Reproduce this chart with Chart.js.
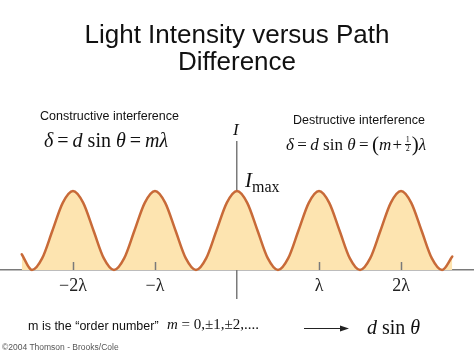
<!DOCTYPE html>
<html>
<head>
<meta charset="utf-8">
<script src="https://cdn.jsdelivr.net/npm/chart.js@4"></script>
<style>
  body { margin: 0; background: #fff; }
  #wrap { position: relative; width: 474px; height: 355px; overflow: hidden; }
  #wrap canvas { position: absolute; left: 0; top: 0; }
  .t { position: absolute; white-space: nowrap; line-height: 1; color: #111; }
  .sans { font-family: "Liberation Sans", Arial, sans-serif; }
  .serif { font-family: "Liberation Serif", "Times New Roman", serif; }
  .title { left: 0; width: 474px; text-align: center; font-size: 26px; line-height: 27px; top: 21px; }
  .frac { display: inline-block; vertical-align: middle; font-size: 8px; line-height: 8px; text-align: center; margin: 0 1px; position: relative; top: -2px; }
  .frac span { display: block; }
  .frac .num { border-bottom: 1px solid #111; padding: 0 1px; }
  .big { font-size: 21px; position: relative; top: 1px; }
</style>
</head>
<body>
<div id="wrap">
  <canvas id="intensityChart" width="474" height="355"></canvas>
  <div class="t sans title">Light Intensity versus Path<br>Difference</div>
  <div class="t sans" style="left:40px;top:110px;font-size:12.5px;">Constructive interference</div>
  <div class="t serif" style="left:44px;top:130px;font-size:20px;"><i>δ</i>&thinsp;=&thinsp;<i>d</i> sin <i>θ</i>&thinsp;=&thinsp;<i>mλ</i></div>
  <div class="t sans" style="left:293px;top:114px;font-size:12.5px;">Destructive interference</div>
  <div class="t serif" style="left:286px;top:133px;font-size:17px;"><i>δ</i>&thinsp;=&thinsp;<i>d</i> sin <i>θ</i>&thinsp;=&thinsp;<span class="big">(</span><i>m</i>&hairsp;+&hairsp;<span class="frac"><span class="num">1</span><span>2</span></span><span class="big">)</span><i>λ</i></div>
  <div class="t serif" style="left:233px;top:121px;font-size:17px;"><i>I</i></div>
  <div class="t serif" style="left:245px;top:170px;font-size:21px;"><i>I</i><span style="font-size:16px;position:relative;top:5px;">max</span></div>
  <div class="t sans" style="left:28px;top:320px;font-size:12.5px;">m is the “order number”</div>
  <div class="t serif" style="left:167px;top:317px;font-size:15px;"><i>m</i> = 0,±1,±2,....</div>
  <div class="t serif" style="left:367px;top:317px;font-size:20px;"><i>d</i> sin <i>θ</i></div>
  <div class="t sans" style="left:2px;top:343px;font-size:8.5px;color:#555;">©2004 Thomson - Brooks/Cole</div>
</div>
<script>
// path difference in units of lambda, intensity relative to I_max
const pathDiff = [-2.625, -2.5, -2.375, -2.25, -2.125, -2, -1.875, -1.75, -1.625, -1.5, -1.375,
    -1.25, -1.125, -1, -0.875, -0.75, -0.625, -0.5, -0.375, -0.25, -0.125, 0, 0.125, 0.25,
    0.375, 0.5, 0.625, 0.75, 0.875, 1, 1.125, 1.25, 1.375, 1.5, 1.625, 1.75, 1.875, 2,
    2.125, 2.25, 2.375, 2.5, 2.625];
const intensity = [0.2, 0, 0.15, 0.5, 0.85, 1, 0.85, 0.5, 0.15, 0, 0.15,
    0.5, 0.85, 1, 0.85, 0.5, 0.15, 0, 0.15, 0.5, 0.85, 1, 0.85, 0.5,
    0.15, 0, 0.15, 0.5, 0.85, 1, 0.85, 0.5, 0.15, 0, 0.15, 0.5, 0.85, 1,
    0.85, 0.5, 0.15, 0, 0.17];
const tickValues = [-2, -1, 1, 2];
const tickLabels = ['\u22122\u03bb', '\u2212\u03bb', '\u03bb', '2\u03bb'];

const axisColor = '#7a7a7a';

const extras = {
    id: 'extras',
    afterDraw(chart) {
        const { ctx, scales: { x, y } } = chart;
        const y0 = y.getPixelForValue(0);
        ctx.save();
        ctx.strokeStyle = axisColor;
        ctx.lineWidth = 1.5;
        // tick marks point up from the axis
        tickValues.forEach(v => {
            const px = Math.round(x.getPixelForValue(v)) + 0.5;
            ctx.beginPath();
            ctx.moveTo(px, y0);
            ctx.lineTo(px, y0 - 8);
            ctx.stroke();
        });
        // arrow for d sin theta
        ctx.strokeStyle = '#222';
        ctx.fillStyle = '#222';
        ctx.lineWidth = 1;
        ctx.beginPath();
        ctx.moveTo(304, 328.5);
        ctx.lineTo(342, 328.5);
        ctx.stroke();
        ctx.beginPath();
        ctx.moveTo(349, 328.5);
        ctx.lineTo(340, 325.5);
        ctx.lineTo(340, 331.5);
        ctx.closePath();
        ctx.fill();
        ctx.restore();
    }
};

new Chart(document.getElementById('intensityChart').getContext('2d'), {
    type: 'line',
    data: {
        datasets: [{
            data: pathDiff.map((v, i) => ({ x: v, y: intensity[i] })),
            borderColor: '#c86a38',
            backgroundColor: '#fde4b0',
            borderWidth: 2.5,
            borderCapStyle: 'round',
            fill: 'origin',
            pointRadius: 0,
            cubicInterpolationMode: 'monotone'
        }]
    },
    options: {
        responsive: false,
        animation: false,
        layout: { padding: { top: 142, bottom: 57, left: 0, right: 0 } },
        scales: {
            x: {
                type: 'linear',
                min: -2.89,
                max: 2.89,
                position: { y: 0 },
                border: { color: axisColor, width: 1.5 },
                grid: { display: false, drawTicks: false },
                afterBuildTicks: axis => { axis.ticks = tickValues.map(v => ({ value: v })); },
                ticks: {
                    padding: 5,
                    color: '#222',
                    font: { family: 'Liberation Serif', size: 18 },
                    callback: v => tickLabels[tickValues.indexOf(v)]
                }
            },
            y: {
                min: -0.354,
                max: 1.62,
                position: { x: 0 },
                border: { color: axisColor, width: 1.5 },
                grid: { display: false, drawTicks: false },
                ticks: { display: false }
            }
        },
        plugins: {
            legend: { display: false },
            tooltip: { enabled: false }
        }
    },
    plugins: [extras]
});
</script>
</body>
</html>
